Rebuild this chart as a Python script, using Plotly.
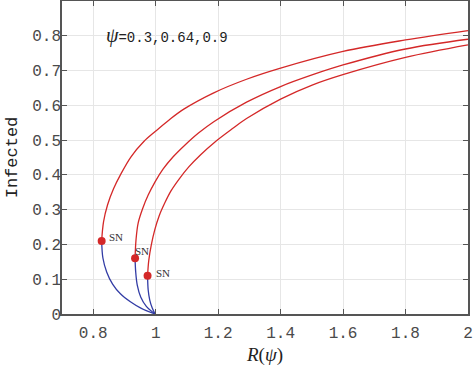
import plotly.graph_objects as go

psi_values = [0.3, 0.64, 0.9]
sn_R = [0.827, 0.934, 0.974]
sn_I = [0.210, 0.160, 0.110]

red_R = [
    [0.827, 0.833, 0.846, 0.865, 0.887, 0.921, 0.962, 1.0, 1.043, 1.090, 1.186, 1.291, 1.4, 1.6, 1.8, 2.0],
    [0.934, 0.937, 0.944, 0.959, 0.976, 0.998, 1.024, 1.056, 1.094, 1.138, 1.186, 1.291, 1.4, 1.503, 1.6, 1.8, 2.0],
    [0.974, 0.978, 0.986, 0.997, 1.011, 1.029, 1.049, 1.075, 1.106, 1.144, 1.189, 1.240, 1.291, 1.4, 1.503, 1.602, 1.8, 2.0],
]
red_I = [
    [0.210, 0.265, 0.314, 0.360, 0.400, 0.452, 0.496, 0.526, 0.558, 0.589, 0.636, 0.675, 0.707, 0.755, 0.788, 0.815],
    [0.160, 0.213, 0.262, 0.305, 0.342, 0.380, 0.417, 0.452, 0.486, 0.521, 0.553, 0.609, 0.654, 0.688, 0.716, 0.762, 0.790],
    [0.110, 0.155, 0.199, 0.242, 0.282, 0.319, 0.354, 0.388, 0.423, 0.458, 0.494, 0.529, 0.562, 0.618, 0.659, 0.689, 0.738, 0.774],
]
blue_R = [
    [0.827, 0.831, 0.843, 0.862, 0.887, 0.919, 0.954, 0.998],
    [0.934, 0.936, 0.941, 0.952, 0.970, 0.998],
    [0.974, 0.976, 0.981, 0.989, 0.998],
]
blue_I = [
    [0.210, 0.161, 0.121, 0.086, 0.058, 0.035, 0.016, 0.0],
    [0.160, 0.121, 0.083, 0.049, 0.022, 0.0],
    [0.110, 0.069, 0.040, 0.017, 0.0],
]

x_ticks = [0.8, 1, 1.2, 1.4, 1.6, 1.8, 2]
x_ticktext = ["0.8", "1", "1.2", "1.4", "1.6", "1.8", "2"]
y_ticks = [0, 0.1, 0.2, 0.3, 0.4, 0.5, 0.6, 0.7, 0.8]
y_ticktext = ["0", "0.1", "0.2", "0.3", "0.4", "0.5", "0.6", "0.7", "0.8"]

RED = "rgb(212,40,40)"
BLUE = "rgb(50,60,165)"

fig = go.Figure()
for i in range(3):
    fig.add_trace(go.Scatter(x=red_R[i], y=red_I[i], mode="lines",
                             line=dict(color=RED, width=1.3, shape="spline", smoothing=1.0),
                             showlegend=False, hoverinfo="skip"))
    fig.add_trace(go.Scatter(x=blue_R[i], y=blue_I[i], mode="lines",
                             line=dict(color=BLUE, width=1.3, shape="spline", smoothing=1.0),
                             showlegend=False, hoverinfo="skip"))
fig.add_trace(go.Scatter(x=sn_R, y=sn_I, mode="markers",
                         marker=dict(color=RED, size=8),
                         showlegend=False, hoverinfo="skip"))

shifts = [(14, 4), (7, 7), (15, 3)]
for i in range(3):
    fig.add_annotation(x=sn_R[i], y=sn_I[i], text="SN", showarrow=False,
                       xshift=shifts[i][0], yshift=shifts[i][1],
                       font=dict(family="Liberation Serif", size=11, color="#333"))

psi_text = "<i>ψ</i><span style='font-family:Liberation Mono;font-size:14px'>=" + ",".join(str(v) for v in psi_values) + "</span>"
fig.add_annotation(x=0.835, y=0.80, text=psi_text, showarrow=False, xanchor="left",
                   font=dict(family="Liberation Serif", size=20, color="#222"))

axis_common = dict(showline=True, linecolor="#555", linewidth=1.5, mirror="ticks",
                   ticks="inside", ticklen=5, tickcolor="#555", automargin=False,
                   showgrid=True, gridcolor="#e6e6e6", gridwidth=1, zeroline=False,
                   ticklabeloverflow="allow",
                   tickfont=dict(family="Liberation Mono", size=16, color="#4a4a4a"))

fig.update_xaxes(range=[0.7, 2.0001], tickvals=x_ticks, ticktext=x_ticktext,
                 ticklabelstandoff=3,
                 title=dict(text="<i>R</i>(<i>ψ</i>)", standoff=6,
                            font=dict(family="Liberation Serif", size=19, color="#222")),
                 **axis_common)
fig.update_yaxes(range=[0, 0.9], tickvals=y_ticks, ticktext=y_ticktext,
                 ticklabelstandoff=-4,
                 title=dict(text="Infected", standoff=10,
                            font=dict(family="Liberation Mono", size=17, color="#222")),
                 **axis_common)

fig.update_layout(width=474, height=370, margin=dict(l=62, r=6, t=1, b=56),
                  plot_bgcolor="white", paper_bgcolor="white")
fig.write_html("out.html", config={"displayModeBar": False},
               post_script="document.body.style.margin='0';document.body.style.overflow='hidden';")
